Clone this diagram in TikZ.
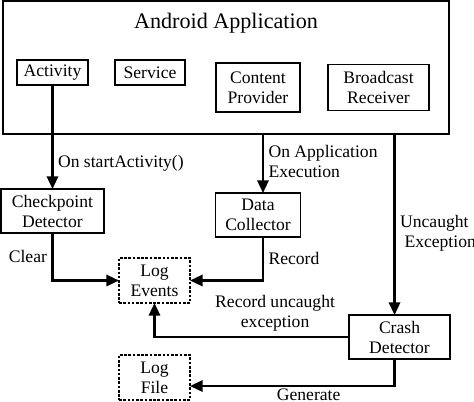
\documentclass[tikz,border=0pt]{standalone}
\usepackage{fontspec}
\setmainfont{Liberation Serif}
\usepackage{tikz}
\usetikzlibrary{shapes,arrows.meta,positioning}
\tikzstyle{comp} = [rectangle, draw, line width=0.9pt, align=center, inner sep=0pt, outer sep=0pt, text=black, font=\fontsize{13.2}{15}\selectfont]
\tikzstyle{logbox} = [comp, dash pattern=on 2pt off 1.2pt]
\tikzstyle{lbl} = [align=left, font=\fontsize{13.2}{15}\selectfont]
\tikzstyle{tedge}  = [draw, line width=1.7pt, >={Triangle[length=9.5pt,width=8.5pt]}, ->]

\begin{document}
\begin{tikzpicture}[auto]

% application =============================

\node[rectangle, draw, line width=1pt, outer sep=0pt, minimum width=334.5pt, minimum height=99.75pt] (app) {};
\useasboundingbox ([xshift=-2.25pt,yshift=0.75pt]app.north west) rectangle ++(355.5pt,-301.5pt);
\node[below=5.5pt of app.north, font=\fontsize{16.6}{19}\selectfont] (title) {Android Application};

% components
\node[comp, minimum width=53.25pt, minimum height=18.75pt, below right=44.25pt and 10.5pt of app.north west] (activity) {Activity};
\node[comp, minimum width=52.5pt, minimum height=18.75pt, right=20.25pt of activity] (service) {Service};
\node[comp, minimum width=63pt, minimum height=36.75pt, below right=2.25pt and 23.25pt of service.north east] (content) {Content\\Provider};
\node[comp, minimum width=75.75pt, minimum height=34.5pt, right=21pt of content] (broadcast) {Broadcast\\Receiver};

% detectors and collector
\node[comp, minimum width=77.25pt, minimum height=33pt, below=78pt of activity] (checkpoint) {Checkpoint\\Detector};
\node[comp, minimum width=63.75pt, minimum height=33pt, below=60.75pt of content] (datacol) {Data\\Collector};
\node[comp, minimum width=75.75pt, minimum height=33pt, below right=58.5pt and 36.4pt of datacol.south east] (crash) {Crash\\Detector};

% logs
\node[logbox, minimum width=53.25pt, minimum height=33.75pt, below right=18.75pt and 11.25pt of checkpoint.south east] (logevents) {Log\\Events};
\node[logbox, minimum width=53.25pt, minimum height=33.75pt, below=39pt of logevents] (logfile) {Log\\File};

%edges
\path[tedge] (activity.south) -- node[lbl, pos=0.75, right] {On startActivity()} (checkpoint.north);
\path[tedge] ([xshift=3.75pt]datacol.north |- app.south) -- node[lbl, pos=0.47, right] {On Application\\Execution} ([xshift=3.75pt]datacol.north);
\path[tedge] ([xshift=-3.75pt]crash.north |- app.south) -- node[lbl, pos=0.547, right] {Uncaught\\\ Exception} ([xshift=-3.75pt]crash.north);

\path[tedge] (checkpoint.south) |- node[lbl, pos=0.25, left] {Clear} (logevents.west);
\path[tedge] ([xshift=3.75pt]datacol.south) |- node[lbl, pos=0.25, right] {Record} (logevents.east);
\path[tedge] (crash.west) -| node[lbl, align=center, pos=0.19, above] {Record uncaught\\exception} (logevents.south);
\path[tedge] ([xshift=-3.75pt]crash.south) |- node[lbl, pos=0.71, below, inner sep=1.5pt] {Generate} ([yshift=-6.4pt]logfile.east);

\end{tikzpicture}
\end{document}
